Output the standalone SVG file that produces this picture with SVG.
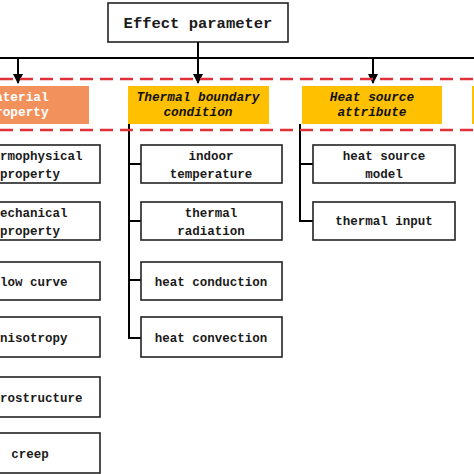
<svg xmlns="http://www.w3.org/2000/svg" width="474" height="474" viewBox="0 0 474 474">
<defs>
<marker id="ah" markerWidth="10" markerHeight="10" refX="9" refY="5" orient="auto" markerUnits="userSpaceOnUse">
<path d="M0,0 L10,5 L0,10 z" fill="#000"/>
</marker>
<style>
.box{fill:#fff;stroke:#222;stroke-width:1.6}
.t{font-family:"Liberation Mono","DejaVu Sans Mono",monospace;font-size:12.5px;font-weight:bold;fill:#1a1a1a;text-anchor:middle}
.cat{font-family:"Liberation Mono","DejaVu Sans Mono",monospace;font-size:12.8px;font-style:italic;font-weight:bold;fill:#111;text-anchor:middle}
.gold{fill:#FFC000}
.ln{stroke:#000;stroke-width:2;fill:none}
.dash{stroke:#E0303A;stroke-width:2.5;stroke-dasharray:13 7;fill:none}
</style>
</defs>
<rect width="474" height="474" fill="#fff"/>
<g id="root">
<rect class="box" x="108" y="3" width="180" height="39"/>
<text class="t" x="198" y="28" style="font-size:15.5px">Effect parameter</text>
</g>
<g id="connectors">
<path class="ln" d="M198,42 V58 M0,58 H474"/>
<path class="ln" d="M18,58 V83" marker-end="url(#ah)"/>
<path class="ln" d="M198,58 V83" marker-end="url(#ah)"/>
<path class="ln" d="M373,58 V83" marker-end="url(#ah)"/>
<path class="ln" d="M129,124 V338 H141 M129,164 H141 M129,221 H141 M129,280 H141"/>
<path class="ln" d="M300,124 V221 H313 M300,164 H313"/>
</g>
<g id="dashes">
<path class="dash" d="M0,79 H474"/>
<path class="dash" d="M0,130 H474"/>
</g>
<g id="material">
<rect x="-52" y="86" width="141" height="38" fill="#F2915C"/>
<text class="cat" x="18" y="101" style="fill:#fff;font-style:normal">Material</text>
<text class="cat" x="18" y="116" style="fill:#fff;font-style:normal">property</text>
</g>
<g id="thermal-boundary">
<rect class="gold" x="128" y="86" width="141" height="38"/>
<text class="cat" x="198" y="101">Thermal boundary</text>
<text class="cat" x="198" y="116">condition</text>
</g>
<g id="heat-source">
<rect class="gold" x="302" y="86" width="140" height="38"/>
<text class="cat" x="372" y="101">Heat source</text>
<text class="cat" x="372" y="116">attribute</text>
</g>
<g id="fourth">
<rect class="gold" x="472" y="86" width="10" height="38"/>
</g>
<g id="thermophysical">
<rect class="box" x="-40" y="145" width="140" height="38"/>
<text class="t" x="30" y="160">Thermophysical</text>
<text class="t" x="30" y="178">property</text>
</g>
<g id="mechanical">
<rect class="box" x="-40" y="202" width="140" height="38"/>
<text class="t" x="30" y="217">Mechanical</text>
<text class="t" x="30" y="235">property</text>
</g>
<g id="flow">
<rect class="box" x="-40" y="262" width="140" height="38"/>
<text class="t" x="30" y="286">Flow curve</text>
</g>
<g id="anisotropy">
<rect class="box" x="-40" y="317" width="140" height="40"/>
<text class="t" x="30" y="342">Anisotropy</text>
</g>
<g id="microstructure">
<rect class="box" x="-40" y="377" width="140" height="40"/>
<text class="t" x="30" y="402">Microstructure</text>
</g>
<g id="creep">
<rect class="box" x="-40" y="433" width="140" height="40"/>
<text class="t" x="30" y="458">creep</text>
</g>
<g id="indoor">
<rect class="box" x="141" y="145" width="141" height="38"/>
<text class="t" x="211" y="160">indoor</text>
<text class="t" x="211" y="178">temperature</text>
</g>
<g id="radiation">
<rect class="box" x="141" y="202" width="141" height="38"/>
<text class="t" x="211" y="217">thermal</text>
<text class="t" x="211" y="235">radiation</text>
</g>
<g id="conduction">
<rect class="box" x="141" y="262" width="141" height="38"/>
<text class="t" x="211" y="286">heat conduction</text>
</g>
<g id="convection">
<rect class="box" x="141" y="317" width="141" height="40"/>
<text class="t" x="211" y="342">heat convection</text>
</g>
<g id="hs-model">
<rect class="box" x="313" y="145" width="142" height="38"/>
<text class="t" x="384" y="160">heat source</text>
<text class="t" x="384" y="178">model</text>
</g>
<g id="thermal-input">
<rect class="box" x="313" y="202" width="142" height="38"/>
<text class="t" x="384" y="225">thermal input</text>
</g>
</svg>
